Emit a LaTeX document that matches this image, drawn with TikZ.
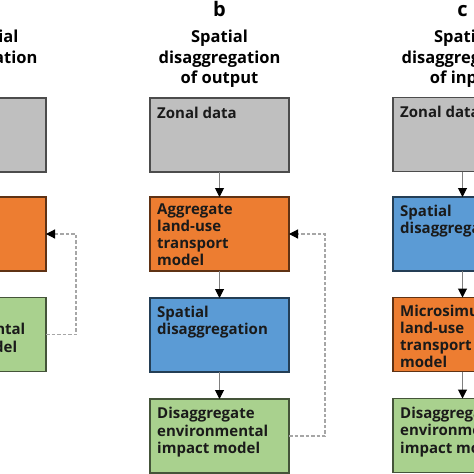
\documentclass[tikz,border=0pt]{standalone}
\usepackage{fontspec}
\setmainfont{Open Sans}
\usetikzlibrary{arrows.meta}
\definecolor{cgray}{HTML}{BFBFBF}
\definecolor{corange}{HTML}{ED7D31}
\definecolor{cblue}{HTML}{5B9BD5}
\definecolor{cgreen}{HTML}{A9D18E}
\definecolor{ctext}{HTML}{1A1A1A}
\definecolor{cline}{HTML}{7F7F7F}
\definecolor{cdash}{HTML}{A6A6A6}
\begin{document}
\begin{tikzpicture}[x=1pt,y=-1pt,
  box/.style={line width=1.2pt, minimum width=139pt, minimum height=74pt, inner sep=0pt, outer sep=0pt, anchor=north west},
  graybox/.style={box, fill=cgray, draw=cgray!40!black},
  orangebox/.style={box, fill=corange, draw=corange!40!black},
  bluebox/.style={box, fill=cblue, draw=cblue!40!black},
  greenbox/.style={box, fill=cgreen, draw=cgreen!40!black},
  boxtxt/.style={anchor=base west, inner sep=0pt, align=left, text=ctext, font=\fontsize{15}{17.5}\selectfont\bfseries},
  boxtxtfour/.style={boxtxt, font=\fontsize{15}{17}\selectfont\bfseries},
  ttl/.style={anchor=base, inner sep=0pt, align=center, text=black, font=\fontsize{16.5}{20.5}\selectfont\bfseries},
  lettr/.style={anchor=base, inner sep=0pt, text=black, font=\fontsize{20}{24}\selectfont\bfseries},
  arr/.style={draw=cline, line width=1pt, -{Triangle[length=9pt,width=9pt,color=black]}},
  darr/.style={draw=cdash, line width=1.2pt, dash pattern=on 3.5pt off 2pt, -{Triangle[length=9pt,width=9pt,color=black]}}
]
\useasboundingbox (0,0) rectangle (474,474);
\clip (0,0) rectangle (474,474);
\fill[white] (0,0) rectangle (474,474);

% ---------- column a ----------
\node[ttl] (at) at (-23.5,63.2) {No spatial\\disaggregation};
\node[graybox] (az) at (-93,98) {};
\node[orangebox] (ao) at (-93,197) {};
\node[greenbox] (ag) at (-93,297.5) {};
\node[boxtxt] (azt) at ([xshift=7pt,yshift=-20pt]az.north west) {Zonal data};
\node[boxtxtfour] (aot) at ([xshift=7pt,yshift=-68pt]ao.north west) {Aggregate\\land-use\\transport\\model};
\node[boxtxt] (agt) at ([xshift=7pt,yshift=-54.5pt]ag.north west) {Aggregate\\environmental\\impact model};
\draw[arr] (az.south) -- (ao.north);
\draw[arr] (ao.south) -- (ag.north);
\draw[darr] (ag.east) -- ++(30,0) |- (ao.east);

% ---------- column b ----------
\node[lettr] (bl) at (219.5,16.7) {b};
\node[ttl] (bt) at (219.5,83.7) {Spatial\\disaggregation\\of output};
\node[graybox] (bz) at (150,98) {};
\node[orangebox] (bo) at (150,197) {};
\node[bluebox] (bs) at (150,298) {};
\node[greenbox] (bg) at (150,399) {};
\node[boxtxt] (bzt) at ([xshift=7pt,yshift=-20pt]bz.north west) {Zonal data};
\node[boxtxtfour] (bot) at ([xshift=7pt,yshift=-68pt]bo.north west) {Aggregate\\land-use\\transport\\model};
\node[boxtxt] (bst) at ([xshift=7pt,yshift=-36.5pt]bs.north west) {Spatial\\disaggregation};
\node[boxtxt] (bgt) at ([xshift=7pt,yshift=-54.5pt]bg.north west) {Disaggregate\\environmental\\impact model};
\draw[arr] (bz.south) -- (bo.north);
\draw[arr] (bo.south) -- (bs.north);
\draw[arr] (bs.south) -- (bg.north);
\draw[darr] (bg.east) -- ++(36,0) |- (bo.east);

% ---------- column c ----------
\node[lettr] (cl) at (462.5,16.7) {c};
\node[ttl] (ct) at (462.5,83.7) {Spatial\\disaggregation\\of input};
\node[graybox] (cz) at (393,97.5) {};
\node[bluebox] (cs) at (393,197) {};
\node[orangebox] (co) at (393,297.5) {};
\node[greenbox] (cg) at (393,398.5) {};
\node[boxtxt] (czt) at ([xshift=7pt,yshift=-20pt]cz.north west) {Zonal data};
\node[boxtxt] (cst) at ([xshift=7pt,yshift=-36.5pt]cs.north west) {Spatial\\disaggregation};
\node[boxtxtfour] (cot) at ([xshift=7pt,yshift=-69.5pt]co.north west) {Microsimulation\\land-use\\transport\\model};
\node[boxtxt] (cgt) at ([xshift=7pt,yshift=-54.5pt]cg.north west) {Disaggregate\\environmental\\impact model};
\draw[arr] (cz.south) -- (cs.north);
\draw[arr] (cs.south) -- (co.north);
\draw[arr] (co.south) -- (cg.north);
\end{tikzpicture}
\end{document}
